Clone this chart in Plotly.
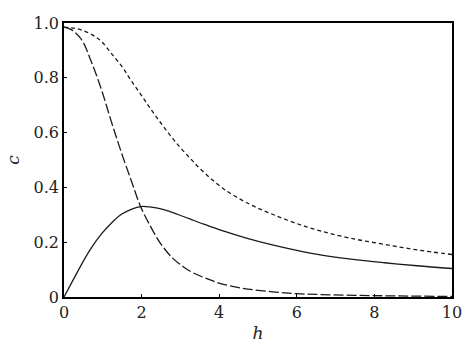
import plotly.graph_objects as go

# Data
h_solid = [0, 0.25, 0.46, 0.7, 0.97, 1.25, 1.48, 1.75, 1.98, 2.2, 2.41, 2.7, 2.92, 3.26, 3.6, 4.1, 4.7, 5.37, 6.0, 6.64, 7.4, 8.26, 9.1, 10.0]
c_solid = [0, 0.066, 0.121, 0.178, 0.231, 0.274, 0.302, 0.321, 0.330, 0.329, 0.324, 0.313, 0.302, 0.284, 0.266, 0.241, 0.215, 0.190, 0.170, 0.153, 0.138, 0.125, 0.114, 0.104]

h_short = [0, 0.25, 0.46, 0.75, 0.97, 1.22, 1.5, 1.73, 2.0, 2.24, 2.49, 2.75, 3.0, 3.26, 3.51, 4.1, 4.78, 5.37, 6.0, 6.64, 7.4, 8.26, 9.1, 10.0]
c_short = [0.985, 0.981, 0.974, 0.955, 0.932, 0.889, 0.84, 0.79, 0.735, 0.685, 0.636, 0.588, 0.545, 0.505, 0.468, 0.396, 0.339, 0.302, 0.268, 0.240, 0.214, 0.192, 0.172, 0.155]

h_long = [0, 0.2, 0.46, 0.7, 0.97, 1.22, 1.48, 1.75, 1.98, 2.24, 2.49, 2.8, 3.1, 3.33, 3.7, 4.02, 4.6, 5.37, 6.0, 6.64, 7.5, 8.5, 10.0]
c_long = [0.985, 0.975, 0.938, 0.86, 0.755, 0.64, 0.527, 0.418, 0.328, 0.255, 0.195, 0.142, 0.108, 0.088, 0.066, 0.050, 0.032, 0.019, 0.012, 0.009, 0.006, 0.004, 0.002]

x_ticks = [0, 2, 4, 6, 8, 10]
x_ticktext = ["0", "2", "4", "6", "8", "10"]
y_ticks = [0, 0.2, 0.4, 0.6, 0.8, 1.0]
y_ticktext = ["0", "0.2", "0.4", "0.6", "0.8", "1.0"]

FONT = "DejaVu Serif"
line_col = "#1a1a1a"

fig = go.Figure()
fig.add_trace(go.Scatter(x=h_solid, y=c_solid, mode="lines", line=dict(color=line_col, width=1.3, shape="spline", smoothing=1.0)))
fig.add_trace(go.Scatter(x=h_short, y=c_short, mode="lines", line=dict(color=line_col, width=1.3, dash="4px,3px", shape="spline", smoothing=1.0)))
fig.add_trace(go.Scatter(x=h_long, y=c_long, mode="lines", line=dict(color=line_col, width=1.3, dash="10px,3px", shape="spline", smoothing=1.0)))

axis_common = dict(
    showgrid=False, zeroline=False, showline=True, linecolor="black", linewidth=1.6,
    mirror=True, ticks="inside", ticklen=3, tickwidth=1, tickcolor="black",
    tickfont=dict(family=FONT, size=16, color="#222"),
)
fig.update_layout(
    width=474, height=354,
    margin=dict(l=62, r=19, t=23, b=57),
    paper_bgcolor="white", plot_bgcolor="white",
    showlegend=False,
    font=dict(family=FONT),
    xaxis=dict(range=[0, 10], tickvals=x_ticks, ticktext=x_ticktext,
               title=dict(text="<i>h</i>", font=dict(family=FONT, size=17, color="#222"), standoff=6),
               **axis_common),
    yaxis=dict(range=[0, 1.0], tickvals=y_ticks, ticktext=y_ticktext,
               title=dict(text="<i>c</i>", font=dict(family=FONT, size=17, color="#222"), standoff=10),
               **axis_common),
)
fig.write_html("out.html")
